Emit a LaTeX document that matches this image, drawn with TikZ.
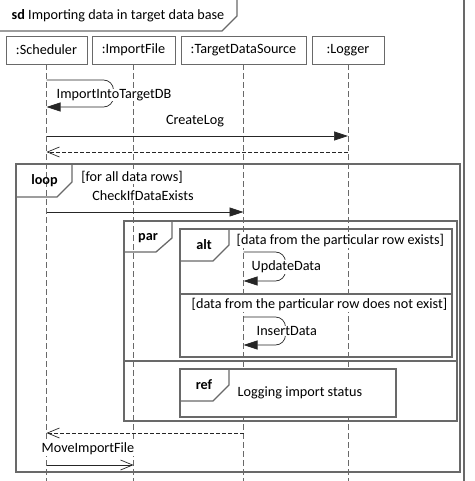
\documentclass[tikz,border=0pt]{standalone}
\usepackage{fontspec}
\setmainfont{Carlito}
\usetikzlibrary{arrows.meta}
\definecolor{ln}{RGB}{105,105,105}
\newcommand{\fs}{\fontsize{14.2}{16}\selectfont}
\begin{document}
\begin{tikzpicture}[x=1pt,y=-1pt,
  obj/.style={draw=ln,line width=0.9pt,minimum height=28pt,inner sep=0pt,font=\fs},
  life/.style={draw=ln,line width=0.8pt,dash pattern=on 6pt off 3pt},
  frm/.style={draw=ln,line width=1.3pt},
  msg/.style={draw=black!85,line width=0.7pt},
  sync/.style={msg,-{Triangle[length=14pt,width=9pt]}},
  ret/.style={msg,dash pattern=on 4pt off 2pt,-{Straight Barb[length=12pt,width=10pt]}},
  async/.style={msg,-{Straight Barb[length=12pt,width=10pt]}},
  lbl/.style={font=\fs,inner sep=0.5pt,fill=white},
  kw/.style={font=\fs\bfseries,inner sep=0pt},
]
\useasboundingbox (0,0) rectangle (474,481);
% sd frame
\draw[frm,line width=1.6pt] (-3,-3) rectangle (464,485);
\draw[frm] (0,31) -- (222,31) -- (237,16) -- (237,-3);
\node[lbl,anchor=west] (sdl) at (11,16) {\textbf{sd} Importing data in target data base};
% lifeline heads
\node[obj,minimum width=81pt] (s) at (46.5,50) {:Scheduler};
\node[obj,minimum width=83pt] (f) at (133.5,50) {:ImportFile};
\node[obj,minimum width=125pt] (t) at (243.5,50) {:TargetDataSource};
\node[obj,minimum width=72pt] (l) at (348,50) {:Logger};
\coordinate (bot) at (0,483);
\foreach \n in {s,f,t,l} \draw[life] (\n.south) -- (\n.south |- bot);
% messages
\coordinate (m1a) at (s.south |- 0,80);
\coordinate (m1b) at (s.south |- 0,107);
\draw[sync,rounded corners=10pt] (m1a) -- ++(67,0) -- ++(0,27) -- (m1b);
\node[lbl,anchor=west] (m1l) at (56,95) {ImportIntoTargetDB};
\coordinate (m2a) at (s.south |- 0,136);
\coordinate (m2b) at (l.south |- 0,136);
\draw[sync] (m2a) -- (m2b);
\node[lbl] (m2l) at (195,121) {CreateLog};
\coordinate (m3a) at (l.south |- 0,152);
\coordinate (m3b) at (s.south |- 0,152);
\draw[ret] (m3a) -- (m3b);
% loop
\draw[frm] (16,164) rectangle (460,472);
\draw[frm] (72,164) -- (72,182) -- (57,197) -- (16,197);
\node[kw] (loopl) at (44.5,181) {loop};
\node[lbl] (loopg) at (132,177) {[for all data rows]};
\node[lbl] (m4l) at (143,196) {CheckIfDataExists};
\coordinate (m4a) at (s.south |- 0,212);
\coordinate (m4b) at (t.south |- 0,212);
\draw[sync] (m4a) -- (m4b);
% par
\draw[frm] (124,221) rectangle (457,421);
\draw[frm] (172,221) -- (172,238) -- (156,252) -- (124,252);
\draw[frm] (124,361) -- (457,361);
\node[kw] (parl) at (148,238) {par};
% alt
\draw[frm] (180,229) rectangle (452,357);
\draw[frm] (229,229) -- (229,245) -- (213,261) -- (180,261);
\draw[frm] (180,294) -- (452,294);
\node[kw] (altl) at (204,245) {alt};
\node[lbl,anchor=west] (g1) at (236,241) {[data from the particular row exists]};
\coordinate (m5a) at (t.south |- 0,252);
\coordinate (m5b) at (t.south |- 0,281);
\draw[sync,rounded corners=10pt] (m5a) -- ++(42,0) -- ++(0,29) -- (m5b);
\node[lbl,anchor=west] (m5l) at (251,267) {UpdateData};
\node[lbl,anchor=west] (g2) at (191,305) {[data from the particular row does not exist]};
\coordinate (m6a) at (t.south |- 0,317);
\coordinate (m6b) at (t.south |- 0,345);
\draw[sync,rounded corners=10pt] (m6a) -- ++(42,0) -- ++(0,28) -- (m6b);
\node[lbl,anchor=west] (m6l) at (256,331) {InsertData};
% ref
\draw[frm,fill=white] (180,369) rectangle (396,417);
\draw[frm] (229,369) -- (229,385) -- (213,401) -- (180,401);
\node[kw] (refl) at (204,385) {ref};
\node[lbl,anchor=west] (refg) at (237,393) {Logging import status};
% after par
\coordinate (m7a) at (t.south |- 0,433);
\coordinate (m7b) at (s.south |- 0,433);
\draw[ret] (m7a) -- (m7b);
\node[lbl] (m8l) at (88,449) {MoveImportFile};
\coordinate (m8a) at (s.south |- 0,465);
\coordinate (m8b) at (f.south |- 0,465);
\draw[async] (m8a) -- (m8b);
\end{tikzpicture}
\end{document}
